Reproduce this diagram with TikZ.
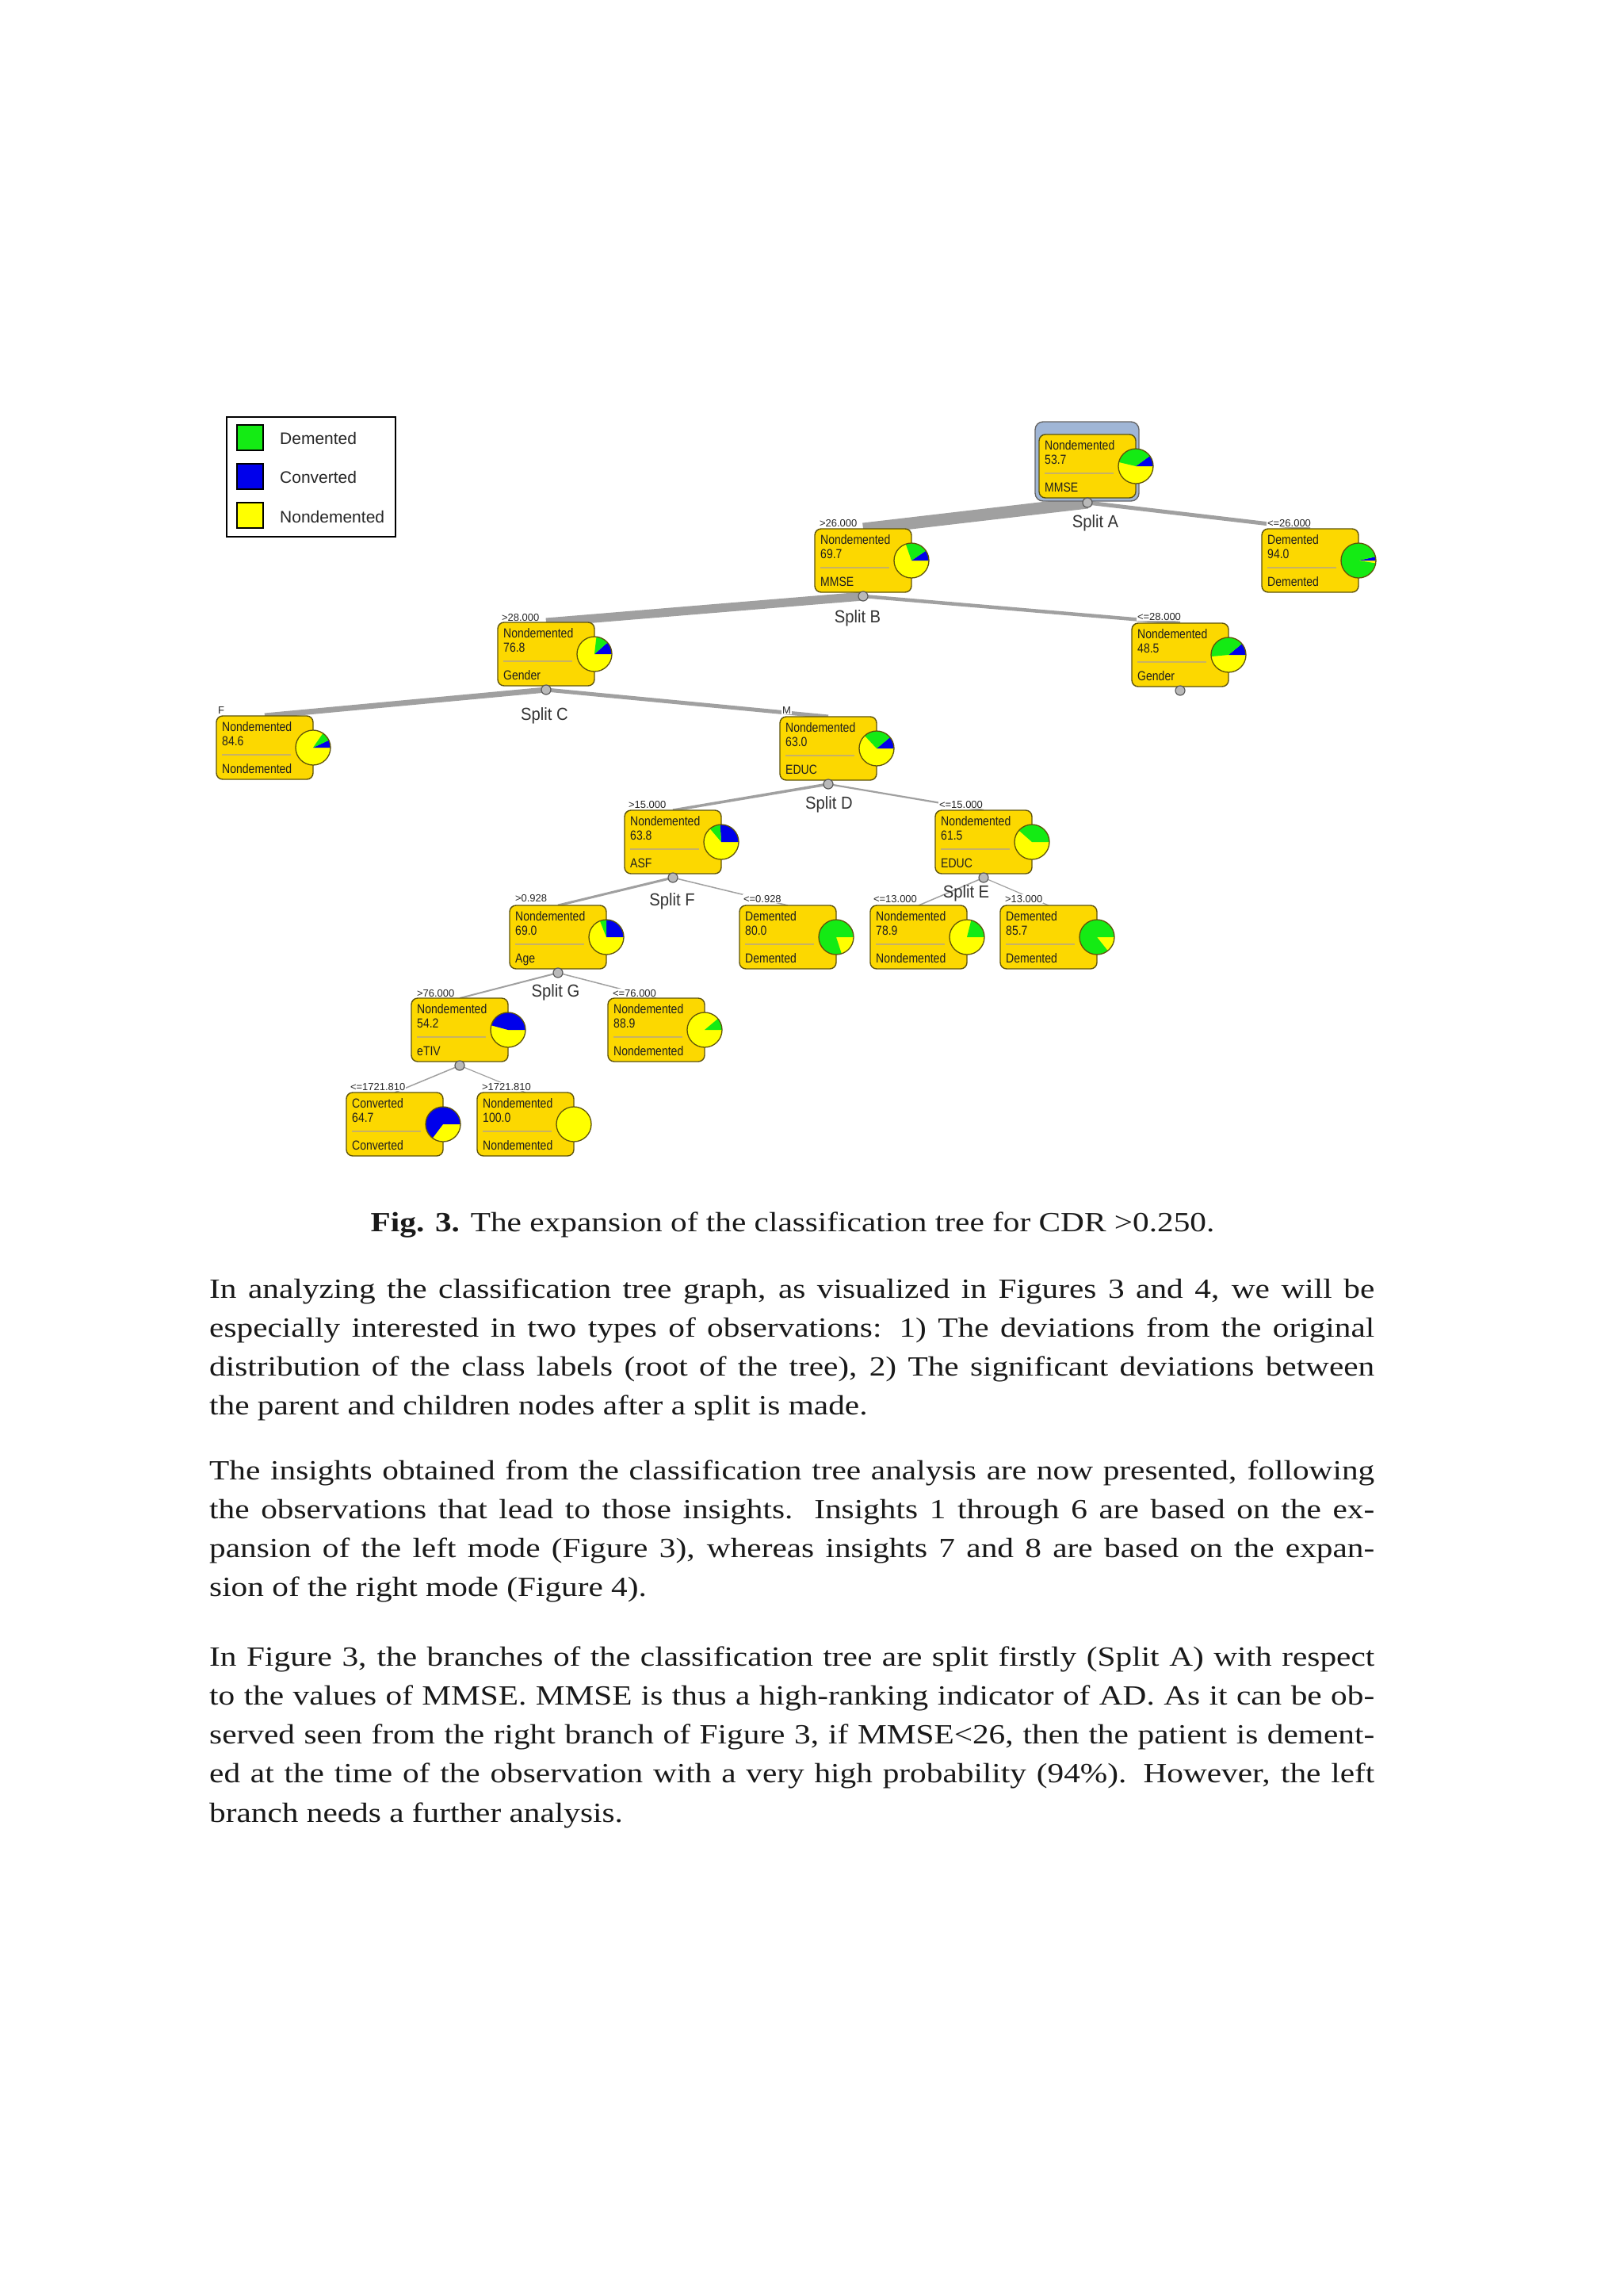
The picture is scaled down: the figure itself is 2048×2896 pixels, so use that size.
\documentclass[tikz,border=0pt]{standalone}
\usepackage{fontspec}
\setmainfont{Liberation Serif}[FakeStretch=1.18]
\newfontfamily\sansf{Liberation Sans}
\newfontfamily\nodef{Liberation Sans}[FakeStretch=0.85]
\newfontfamily\splitf{Liberation Sans}[FakeStretch=0.92]
\pgfdeclarelayer{bgfill}
\pgfdeclarelayer{edges}
\pgfsetlayers{bgfill,edges,main}
\definecolor{nfill}{RGB}{252,216,0}
\definecolor{nborder}{RGB}{95,84,10}
\definecolor{sepc}{RGB}{200,178,100}
\definecolor{cgrn}{RGB}{20,235,20}
\definecolor{cblu}{RGB}{0,0,235}
\definecolor{cyel}{RGB}{255,255,0}
\definecolor{edgec}{RGB}{160,160,160}
\definecolor{dotf}{RGB}{185,185,185}
\definecolor{rootf}{RGB}{160,182,214}
\tikzset{
  tbox/.style={rectangle, rounded corners=8pt, minimum width=122pt, minimum height=80pt, inner sep=0, outer sep=0, fill=nfill, draw=nborder, line width=1.4pt},
  rootbox/.style={rectangle, rounded corners=10pt, minimum width=131pt, minimum height=100pt, inner sep=0, outer sep=0, fill=rootf, draw=black!60, line width=1.4pt},
  ttext/.style={inner sep=0, font=\nodef\fontsize{16.5}{19}\selectfont, text=black!88},
  sepline/.style={draw=sepc, line width=1.2pt},
  pieline/.style={draw=nborder, line width=1.3pt},
  conn/.style={draw=edgec, line cap=butt},
  elabel/.style={inner sep=0.8pt, fill=white, font=\sansf\fontsize{13}{15}\selectfont, text=black!85, anchor=base west},
  sdot/.style={circle, minimum size=12pt, inner sep=0, outer sep=0, fill=dotf, draw=black!65, line width=1.2pt},
  slabel/.style={inner sep=0, font=\splitf\fontsize{22}{25}\selectfont, text=black!80},
  swatch/.style={rectangle, minimum width=33pt, minimum height=32pt, inner sep=0, draw=black, line width=2pt},
  legtext/.style={inner sep=0, anchor=west, font=\sansf\fontsize{21}{24}\selectfont, text=black!85},
  bodytext/.style={inner sep=0, anchor=base west, font=\fontsize{35}{49.3}\selectfont, text=black!90}
}
\newcommand\pie[3]{%
  \pgfmathsetmacro\pa{3.6*#2}%
  \pgfmathsetmacro\pb{3.6*(#2+#3)}%
  \fill[cyel] (#1) circle[radius=22pt];
  \ifdim #2pt>0pt \fill[cblu] (#1) -- ++(0:22pt) arc[start angle=0,end angle=\pa,radius=22pt] -- cycle; \fi
  \ifdim #3pt>0pt \fill[cgrn] (#1) -- ++(\pa:22pt) arc[start angle=\pa,end angle=\pb,radius=22pt] -- cycle; \fi
  \draw[pieline] (#1) circle[radius=22pt];
}
\newcommand\tnode[8]{%
  \node[tbox, anchor=north west] (#1) at (#2,#3) {};
  \node[ttext, anchor=base west] (#1-a) at ([xshift=7pt,yshift=-19pt]#1.north west) {#4};
  \node[ttext, anchor=base west] (#1-b) at ([xshift=7pt,yshift=-37pt]#1.north west) {#5};
  \draw[sepline] ([xshift=7pt,yshift=-49pt]#1.north west) -- ([xshift=94pt,yshift=-49pt]#1.north west);
  \node[ttext, anchor=base west] (#1-c) at ([xshift=7pt,yshift=-72pt]#1.north west) {#6};
  \pie{#1.east}{#7}{#8}
}
\newcommand\jl[1]{\hbox to 1470pt{#1}}
\begin{document}
\begin{tikzpicture}[x=1pt,y=-1pt]
\useasboundingbox (0,0) rectangle (2048,2896);
\begin{pgfonlayer}{bgfill}
\fill[white] (0,0) rectangle (2048,2896);
\end{pgfonlayer}

% legend
\node[draw=black, line width=2.5pt, minimum width=213pt, minimum height=151pt, anchor=north west, inner sep=0, outer sep=0] (legend) at (286,526) {};
\node[swatch, fill=cgrn] (swD) at (315.5,552) {};
\node[swatch, fill=cblu] (swC) at (315.5,601) {};
\node[swatch, fill=cyel] (swN) at (315.5,649.5) {};
\node[legtext] (tD) at (353,553) {Demented};
\node[legtext] (tC) at (353,602) {Converted};
\node[legtext] (tN) at (353,652) {Nondemented};

% edge labels (white background hides line ends)
\node[elabel] (l94) at (1598,664) {<=26.000};
\node[elabel] (l697) at (1033,664) {>26.000};
\node[elabel] (l485) at (1434,782) {<=28.000};
\node[elabel] (l768) at (632,783) {>28.000};
\node[elabel] (l846) at (274,900) {F};
\node[elabel] (l630) at (986,900) {M};
\node[elabel] (l638) at (792,1019) {>15.000};
\node[elabel] (l615) at (1184,1019) {<=15.000};
\node[elabel] (l690) at (649,1137) {>0.928};
\node[elabel] (l800) at (937,1138) {<=0.928};
\node[elabel] (l789) at (1101,1138) {<=13.000};
\node[elabel] (l857) at (1267,1138) {>13.000};
\node[elabel] (l542) at (525,1257) {>76.000};
\node[elabel] (l889) at (772,1257) {<=76.000};
\node[elabel] (l647) at (441,1375) {<=1721.810};
\node[elabel] (l1000) at (607,1375) {>1721.810};

% tree nodes
\node[rootbox, anchor=north west] (rootbg) at (1306,532) {};
\tnode{root}{1311}{548}{Nondemented}{53.7}{MMSE}{10}{36.3}
\tnode{n94}{1592}{667}{Demented}{94.0}{Demented}{3.5}{94}
\tnode{n697}{1028}{667}{Nondemented}{69.7}{MMSE}{9.5}{20.8}
\tnode{n485}{1428}{786}{Nondemented}{48.5}{Gender}{11}{40.5}
\tnode{n768}{628}{785}{Nondemented}{76.8}{Gender}{11.5}{11.7}
\tnode{n846}{273}{903}{Nondemented}{84.6}{Nondemented}{7}{8.4}
\tnode{n630}{984}{904}{Nondemented}{63.0}{EDUC}{11}{26}
\tnode{n638}{788}{1022}{Nondemented}{63.8}{ASF}{26}{10.2}
\tnode{n615}{1180}{1022}{Nondemented}{61.5}{EDUC}{0}{38.5}
\tnode{n690}{643}{1142}{Nondemented}{69.0}{Age}{25}{6}
\tnode{n800}{933}{1142}{Demented}{80.0}{Demented}{0}{80}
\tnode{n789}{1098}{1142}{Nondemented}{78.9}{Nondemented}{0}{21.1}
\tnode{n857}{1262}{1142}{Demented}{85.7}{Demented}{0}{85.7}
\tnode{n542}{519}{1259}{Nondemented}{54.2}{eTIV}{45.8}{0}
\tnode{n889}{767}{1259}{Nondemented}{88.9}{Nondemented}{0}{11.1}
\tnode{n647}{437}{1378}{Converted}{64.7}{Converted}{64.7}{0}
\tnode{n1000}{602}{1378}{Nondemented}{100.0}{Nondemented}{0}{0}

% split dots
\node[sdot] (dA) at ([yshift=-6pt]root.south) {};
\node[sdot] (dB) at ([yshift=-5pt]n697.south) {};
\node[sdot] (dX) at ([yshift=-5pt]n485.south) {};
\node[sdot] (dC) at ([yshift=-5pt]n768.south) {};
\node[sdot] (dD) at ([yshift=-5pt]n630.south) {};
\node[sdot] (dF) at ([yshift=-5pt]n638.south) {};
\node[sdot] (dE) at ([yshift=-5pt]n615.south) {};
\node[sdot] (dG) at ([yshift=-5pt]n690.south) {};
\node[sdot] (dH) at ([yshift=-5pt]n542.south) {};

% split labels
\node[slabel] (sA) at (1382,660) {Split A};
\node[slabel] (sB) at (1082,780) {Split B};
\node[slabel] (sC) at (687,903) {Split C};
\node[slabel] (sD) at (1046,1015) {Split D};
\node[slabel] (sE) at (1219,1127) {Split E};
\node[slabel] (sF) at (848,1137) {Split F};
\node[slabel] (sG) at (701,1252) {Split G};

% connectors
\begin{pgfonlayer}{edges}
\draw[conn, line width=15pt] (dA.center) -- (n697.north);
\draw[conn, line width=5pt] (dA.center) -- (n94.north);
\draw[conn, line width=11pt] (dB.center) -- (n768.north);
\draw[conn, line width=4.5pt] (dB.center) -- (n485.north);
\draw[conn, line width=7pt] (dC.center) -- (n846.north);
\draw[conn, line width=5pt] (dC.center) -- (n630.north);
\draw[conn, line width=3.5pt] (dD.center) -- (n638.north);
\draw[conn, line width=2.2pt] (dD.center) -- (n615.north);
\draw[conn, line width=3pt] (dF.center) -- (n690.north);
\draw[conn, line width=1.5pt] (dF.center) -- (n800.north);
\draw[conn, line width=1.5pt] (dE.center) -- (n789.north);
\draw[conn, line width=1.2pt] (dE.center) -- (n857.north);
\draw[conn, line width=2pt] (dG.center) -- (n542.north);
\draw[conn, line width=1.5pt] (dG.center) -- (n889.north);
\draw[conn, line width=1.5pt] (dH.center) -- (n647.north);
\draw[conn, line width=1.2pt] (dH.center) -- (n1000.north);
\end{pgfonlayer}

% caption
\node[inner sep=0, anchor=base, font=\fontsize{35}{44}\selectfont, text=black!90] (cap) at (1000,1553) {\textbf{Fig. 3.} The expansion of the classification tree for CDR >0.250.};

% body text
\node[bodytext] (p1) at (264,1637) {\vtop{\baselineskip=49.3pt
\jl{In analyzing the classification tree graph, as visualized in Figures 3 and 4, we will be}
\jl{especially interested in two types of observations: 1) The deviations from the original}
\jl{distribution of the class labels (root of the tree), 2) The significant deviations between}
\hbox{the parent and children nodes after a split is made.}}};
\node[bodytext] (p2) at (264,1866) {\vtop{\baselineskip=49.3pt
\jl{The insights obtained from the classification tree analysis are now presented, following}
\jl{the observations that lead to those insights. Insights 1 through 6 are based on the ex-}
\jl{pansion of the left mode (Figure 3), whereas insights 7 and 8 are based on the expan-}
\hbox{sion of the right mode (Figure 4).}}};
\node[bodytext] (p3) at (264,2101) {\vtop{\baselineskip=49.3pt
\jl{In Figure 3, the branches of the classification tree are split firstly (Split A) with respect}
\jl{to the values of MMSE. MMSE is thus a high-ranking indicator of AD. As it can be ob-}
\jl{served seen from the right branch of Figure 3, if MMSE<26, then the patient is dement-}
\jl{ed at the time of the observation with a very high probability (94\%). However, the left}
\hbox{branch needs a further analysis.}}};
\end{tikzpicture}
\end{document}
